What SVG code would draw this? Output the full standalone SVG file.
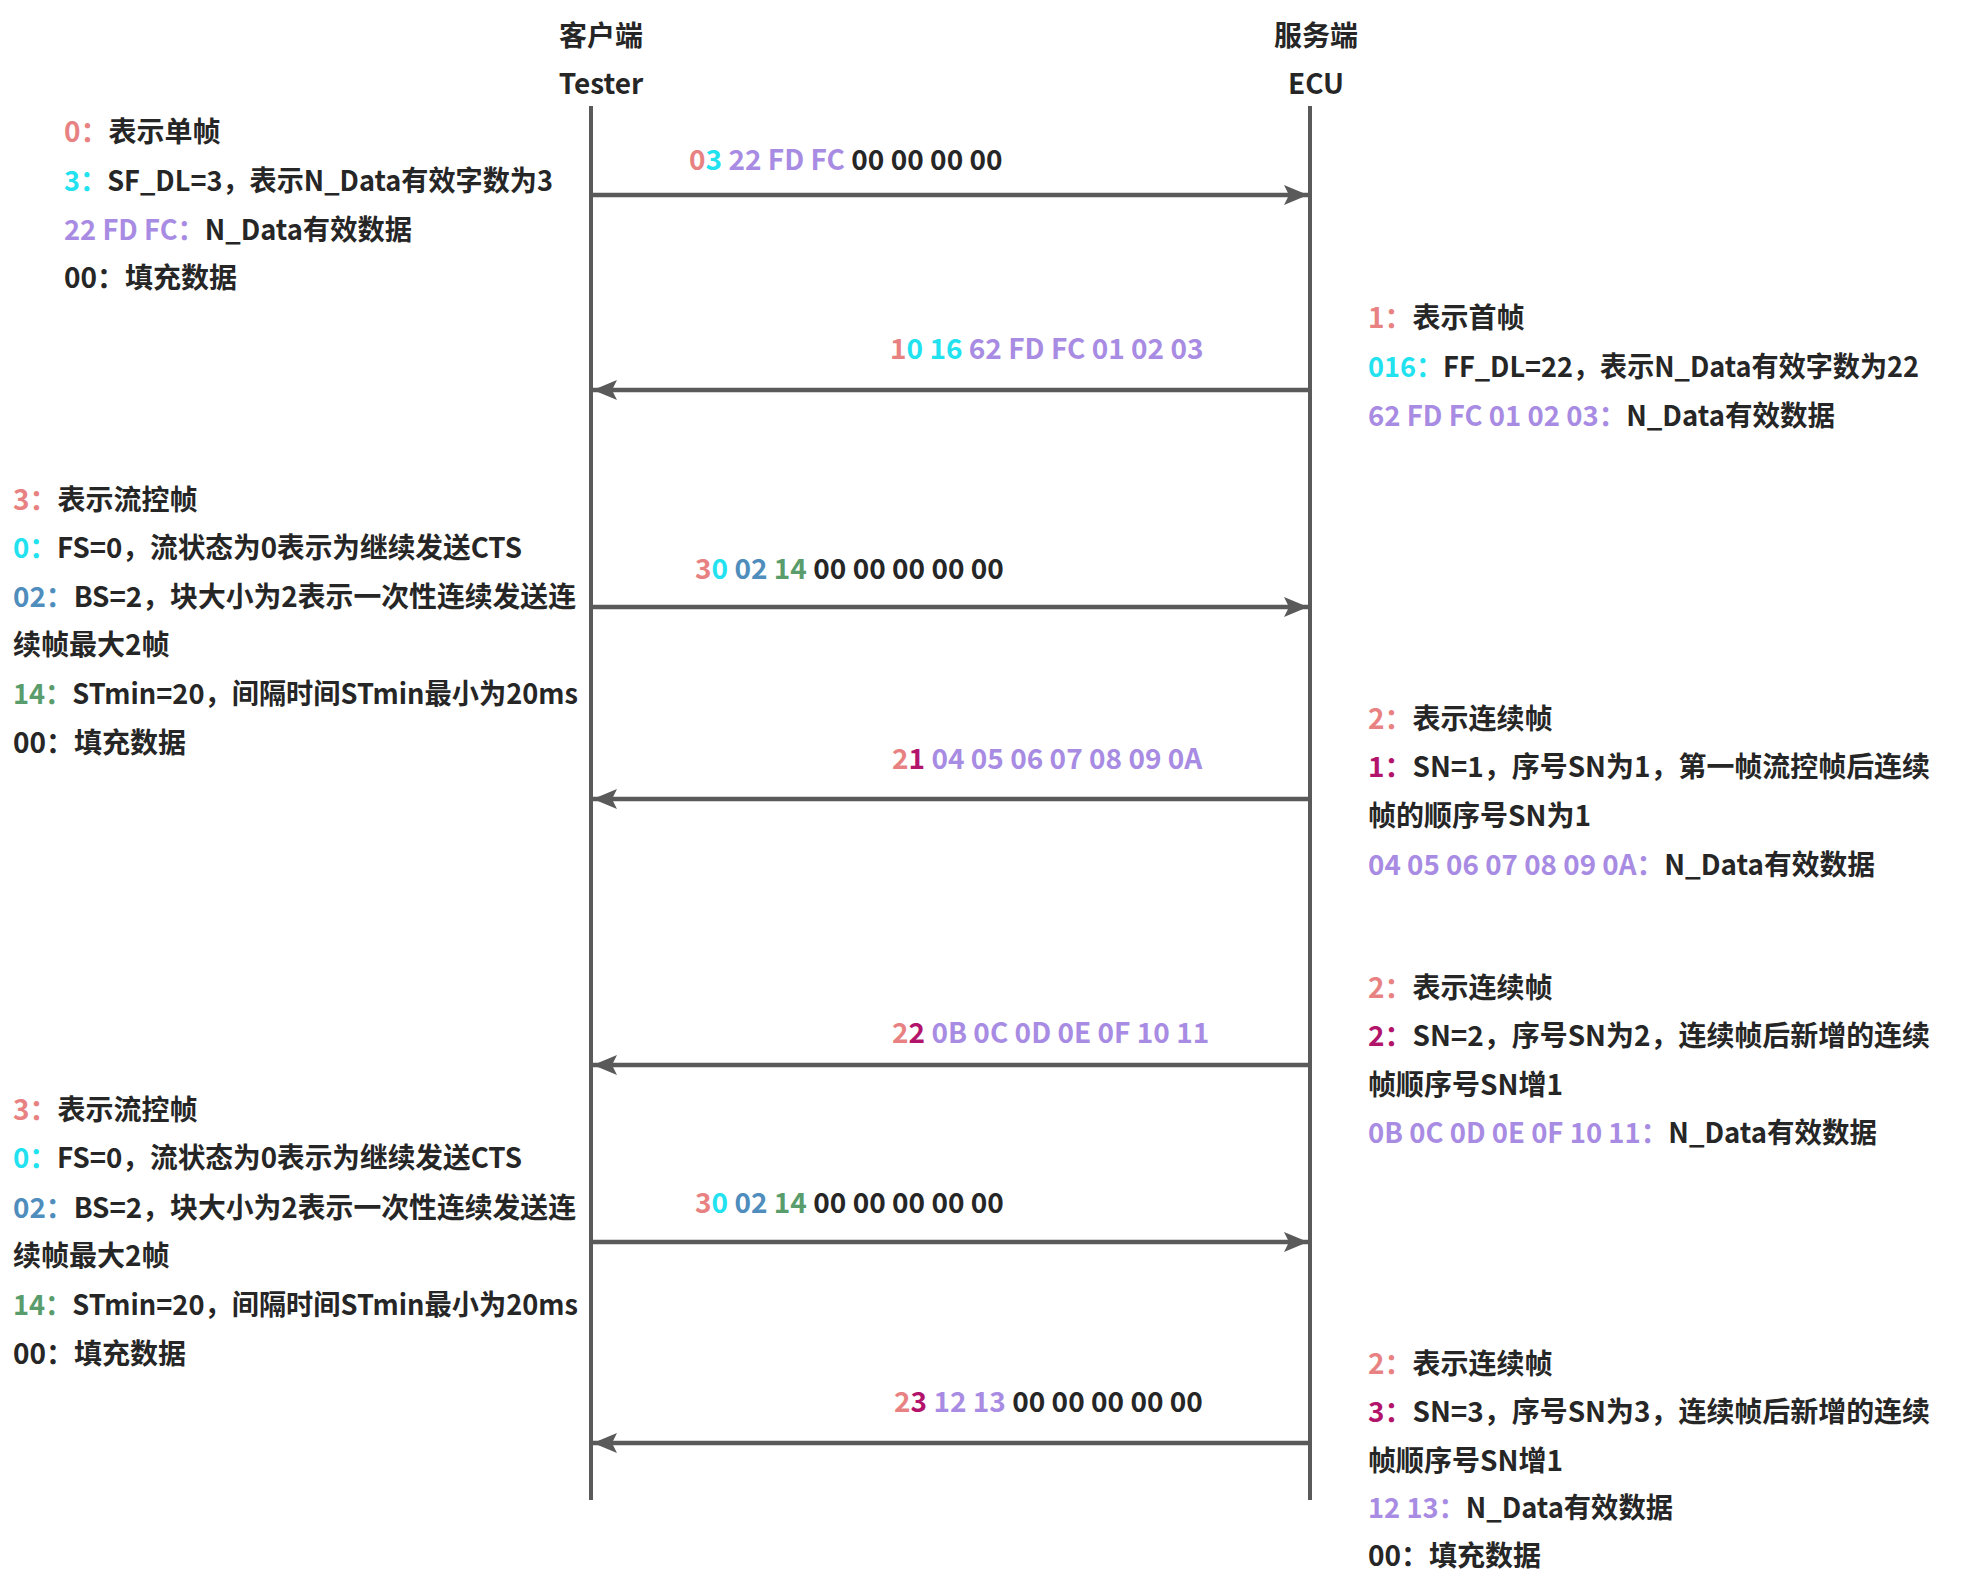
<svg xmlns="http://www.w3.org/2000/svg" width="1970" height="1593" viewBox="0 0 1970 1593">
<defs>
<style>
text{font-family:"Noto Sans CJK SC","Noto Sans",sans-serif;font-weight:bold;font-size:28px;fill:#262626}
.t{text-anchor:middle}
.pk{fill:#e88282}
.cy{fill:#22e2f0}
.pu{fill:#a88be2}
.bl{fill:#4f8dbd}
.gr{fill:#5a9d6c}
.mg{fill:#b3146b}
.life{stroke:#5a5a5a;stroke-width:4}
.msg{stroke:#5a5a5a;stroke-width:4.5;fill:none}
</style>
<marker id="ah" markerUnits="userSpaceOnUse" markerWidth="26" markerHeight="26" viewBox="0 0 26 26" refX="24" refY="13" orient="auto">
<path d="M0,3 L24,13 L0,23 L5,13 Z" fill="#5a5a5a"/>
</marker>
</defs>
<rect width="1970" height="1593" fill="#ffffff"/>

<g id="tester">
<text class="t" x="601" y="46">客户端</text>
<text class="t" x="601" y="94">Tester</text>
<line class="life" x1="591" y1="106" x2="591" y2="1500"/>
</g>
<g id="ecu">
<text class="t" x="1316" y="46">服务端</text>
<text class="t" x="1316" y="94">ECU</text>
<line class="life" x1="1310" y1="106" x2="1310" y2="1500"/>
</g>

<g id="connectors">
<line class="msg" x1="591" y1="195" x2="1308" y2="195" marker-end="url(#ah)"/>
<line class="msg" x1="1310" y1="390" x2="593" y2="390" marker-end="url(#ah)"/>
<line class="msg" x1="591" y1="607" x2="1308" y2="607" marker-end="url(#ah)"/>
<line class="msg" x1="1310" y1="799" x2="593" y2="799" marker-end="url(#ah)"/>
<line class="msg" x1="1310" y1="1065" x2="593" y2="1065" marker-end="url(#ah)"/>
<line class="msg" x1="591" y1="1242" x2="1308" y2="1242" marker-end="url(#ah)"/>
<line class="msg" x1="1310" y1="1443" x2="593" y2="1443" marker-end="url(#ah)"/>
</g>

<g id="msg-labels">
<text x="689" y="170"><tspan class="pk">0</tspan><tspan class="cy">3</tspan><tspan class="pu"> 22 FD FC</tspan> 00 00 00 00</text>
<text x="890" y="359"><tspan class="pk">1</tspan><tspan class="cy">0 16</tspan><tspan class="pu"> 62 FD FC 01 02 03</tspan></text>
<text x="695" y="579"><tspan class="pk">3</tspan><tspan class="cy">0</tspan><tspan class="bl"> 02</tspan><tspan class="gr"> 14</tspan> 00 00 00 00 00</text>
<text x="892" y="769"><tspan class="pk">2</tspan><tspan class="mg">1</tspan><tspan class="pu"> 04 05 06 07 08 09 0A</tspan></text>
<text x="892" y="1043"><tspan class="pk">2</tspan><tspan class="mg">2</tspan><tspan class="pu"> 0B 0C 0D 0E 0F 10 11</tspan></text>
<text x="695" y="1213"><tspan class="pk">3</tspan><tspan class="cy">0</tspan><tspan class="bl"> 02</tspan><tspan class="gr"> 14</tspan> 00 00 00 00 00</text>
<text x="894" y="1412"><tspan class="pk">2</tspan><tspan class="mg">3</tspan><tspan class="pu"> 12 13</tspan> 00 00 00 00 00</text>
</g>

<g id="note-sf">
<text x="64" y="142"><tspan class="pk">0：</tspan>表示单帧</text>
<text x="64" y="191" textLength="489" lengthAdjust="spacingAndGlyphs"><tspan class="cy">3：</tspan>SF_DL=3，表示N_Data有效字数为3</text>
<text x="64" y="240" textLength="348" lengthAdjust="spacingAndGlyphs"><tspan class="pu">22 FD FC：</tspan>N_Data有效数据</text>
<text x="64" y="288">00：填充数据</text>
</g>

<g id="note-ff">
<text x="1368" y="328"><tspan class="pk">1：</tspan>表示首帧</text>
<text x="1368" y="377" textLength="551" lengthAdjust="spacingAndGlyphs"><tspan class="cy">016：</tspan>FF_DL=22，表示N_Data有效字数为22</text>
<text x="1368" y="426" textLength="467" lengthAdjust="spacingAndGlyphs"><tspan class="pu">62 FD FC 01 02 03：</tspan>N_Data有效数据</text>
</g>

<g id="note-fc1">
<text x="13" y="510"><tspan class="pk">3：</tspan>表示流控帧</text>
<text x="13" y="558" textLength="509" lengthAdjust="spacingAndGlyphs"><tspan class="cy">0：</tspan>FS=0，流状态为0表示为继续发送CTS</text>
<text x="13" y="607" textLength="563" lengthAdjust="spacingAndGlyphs"><tspan class="bl">02：</tspan>BS=2，块大小为2表示一次性连续发送连</text>
<text x="13" y="655">续帧最大2帧</text>
<text x="13" y="704" textLength="565" lengthAdjust="spacingAndGlyphs"><tspan class="gr">14：</tspan>STmin=20，间隔时间STmin最小为20ms</text>
<text x="13" y="753">00：填充数据</text>
</g>

<g id="note-cf1">
<text x="1368" y="729"><tspan class="pk">2：</tspan>表示连续帧</text>
<text x="1368" y="777" textLength="562" lengthAdjust="spacingAndGlyphs"><tspan class="mg">1：</tspan>SN=1，序号SN为1，第一帧流控帧后连续</text>
<text x="1368" y="826">帧的顺序号SN为1</text>
<text x="1368" y="875" textLength="507" lengthAdjust="spacingAndGlyphs"><tspan class="pu">04 05 06 07 08 09 0A：</tspan>N_Data有效数据</text>
</g>

<g id="note-cf2">
<text x="1368" y="998"><tspan class="pk">2：</tspan>表示连续帧</text>
<text x="1368" y="1046" textLength="562" lengthAdjust="spacingAndGlyphs"><tspan class="mg">2：</tspan>SN=2，序号SN为2，连续帧后新增的连续</text>
<text x="1368" y="1095">帧顺序号SN增1</text>
<text x="1368" y="1143" textLength="509" lengthAdjust="spacingAndGlyphs"><tspan class="pu">0B 0C 0D 0E 0F 10 11：</tspan>N_Data有效数据</text>
</g>

<g id="note-fc2">
<text x="13" y="1120"><tspan class="pk">3：</tspan>表示流控帧</text>
<text x="13" y="1168" textLength="509" lengthAdjust="spacingAndGlyphs"><tspan class="cy">0：</tspan>FS=0，流状态为0表示为继续发送CTS</text>
<text x="13" y="1218" textLength="563" lengthAdjust="spacingAndGlyphs"><tspan class="bl">02：</tspan>BS=2，块大小为2表示一次性连续发送连</text>
<text x="13" y="1266">续帧最大2帧</text>
<text x="13" y="1315" textLength="565" lengthAdjust="spacingAndGlyphs"><tspan class="gr">14：</tspan>STmin=20，间隔时间STmin最小为20ms</text>
<text x="13" y="1364">00：填充数据</text>
</g>

<g id="note-cf3">
<text x="1368" y="1374"><tspan class="pk">2：</tspan>表示连续帧</text>
<text x="1368" y="1422" textLength="562" lengthAdjust="spacingAndGlyphs"><tspan class="mg">3：</tspan>SN=3，序号SN为3，连续帧后新增的连续</text>
<text x="1368" y="1471">帧顺序号SN增1</text>
<text x="1368" y="1518" textLength="305" lengthAdjust="spacingAndGlyphs"><tspan class="pu">12 13：</tspan>N_Data有效数据</text>
<text x="1368" y="1566">00：填充数据</text>
</g>
</svg>
